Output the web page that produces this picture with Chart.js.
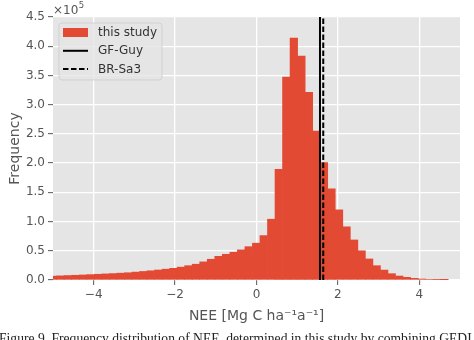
<!DOCTYPE html>
<html>
<head>
<meta charset="utf-8">
<script src="https://cdn.jsdelivr.net/npm/chart.js@4.4.0/dist/chart.umd.min.js"></script>
<style>
  html, body { margin: 0; padding: 0; background: #fff; }
  #wrap { position: relative; width: 474px; height: 340px; overflow: hidden; }
  #caption {
    position: absolute; left: -1px; top: 332px;
    font: 13.6px/13px "Liberation Serif", serif; color: #222; white-space: nowrap;
  }
</style>
</head>
<body>
<div id="wrap">
  <canvas id="neeChart" width="474" height="340"></canvas>
  <div id="caption">Figure 9. Frequency distribution of NEE, determined in this study by combining GEDI and</div>
</div>
<script>
// histogram bins (centres, Mg C ha-1 a-1) and counts
const binCentres = [
  -5.0025, -4.8175, -4.6325, -4.4475, -4.2625, -4.0775, -3.8925, -3.7075, -3.5225, -3.3375,
  -3.1525, -2.9675, -2.7825, -2.5975, -2.4125, -2.2275, -2.0425, -1.8575, -1.6725, -1.4875,
  -1.3025, -1.1175, -0.9325, -0.7475, -0.5625, -0.3775, -0.1925, -0.0075, 0.1775, 0.3625,
  0.5475, 0.7325, 0.9175, 1.1025, 1.2875, 1.4725, 1.6575, 1.8425, 2.0275, 2.2125,
  2.3975, 2.5825, 2.7675, 2.9525, 3.1375, 3.3225, 3.5075, 3.6925, 3.8775, 4.0625,
  4.2475, 4.4325, 4.6175
];
const binCounts = [
  6600, 7100, 7600, 8100, 8600, 9200, 9800, 10400, 11000, 11700,
  12400, 13500, 14600, 15800, 17100, 18500, 20000, 22000, 24500, 27000,
  31000, 35500, 40500, 44000, 47500, 51500, 57000, 63000, 76000, 104000,
  189500, 347000, 414000, 383000, 321000, 255000, 201000, 156000, 120000, 91000,
  68500, 50000, 36000, 24500, 17000, 10800, 6800, 4600, 2900, 1700,
  1200, 800, 500
];

// reference sites (vertical lines)
const siteNames = ['GF-Guy', 'BR-Sa3'];
const siteNEE = [1.56, 1.64];

// axes
const xTickValues = [-4, -2, 0, 2, 4];
const yTickValues = [0, 50000, 100000, 150000, 200000, 250000, 300000, 350000, 400000, 450000];
const xRange = [-5, 5];
const yRange = [0, 450000];

const tickFont = { family: 'DejaVu Sans', size: 12 };
const labelGrey = '#555555';

// grey panel behind the grid
const panelBg = {
  id: 'panelBg',
  beforeDraw(chart) {
    const { ctx, chartArea: a } = chart;
    ctx.save();
    ctx.fillStyle = '#E5E5E5';
    ctx.fillRect(a.left, a.top, a.width, a.height);
    ctx.restore();
  }
};

// matplotlib-style offset text and inset legend
const extras = {
  id: 'extras',
  afterDraw(chart) {
    const { ctx, chartArea: a } = chart;
    ctx.save();

    // x10^5 above the y axis
    ctx.fillStyle = labelGrey;
    ctx.textBaseline = 'alphabetic';
    ctx.font = '12px "DejaVu Sans"';
    ctx.fillText('\u00d710', a.left, 13.5);
    const w = ctx.measureText('\u00d710').width;
    ctx.font = '8.5px "DejaVu Sans"';
    ctx.fillText('5', a.left + w + 0.5, 8);

    // legend box
    const bx = 59, by = 23, bw = 103, bh = 57;
    ctx.beginPath();
    ctx.roundRect(bx, by, bw, bh, 3);
    ctx.fillStyle = 'rgba(229,229,229,0.8)';
    ctx.fill();
    ctx.strokeStyle = 'rgba(204,204,204,0.8)';
    ctx.lineWidth = 1;
    ctx.stroke();

    ctx.font = '12px "DejaVu Sans"';
    ctx.textBaseline = 'middle';
    chart.data.datasets.forEach((ds, i) => {
      const cy = 32.5 + i * 18.3;
      if (ds.type === 'line') {
        ctx.beginPath();
        ctx.setLineDash(ds.borderDash || []);
        ctx.strokeStyle = ds.borderColor;
        ctx.lineWidth = ds.borderWidth;
        ctx.moveTo(63, cy);
        ctx.lineTo(88, cy);
        ctx.stroke();
        ctx.setLineDash([]);
      } else {
        ctx.fillStyle = ds.backgroundColor;
        ctx.fillRect(63, cy - 4.5, 25, 9);
      }
      ctx.fillStyle = '#333333';
      ctx.fillText(ds.label, 98, cy + 0.5);
    });
    ctx.restore();
  }
};

const histData = binCentres.map((x, i) => ({ x: x, y: binCounts[i] }));

const siteSets = siteNames.map((name, i) => ({
  type: 'line',
  label: name,
  data: [{ x: siteNEE[i], y: yRange[0] }, { x: siteNEE[i], y: yRange[1] }],
  borderColor: '#000000',
  borderWidth: 2,
  borderDash: i === 0 ? [] : [5.5, 2.5],
  pointRadius: 0,
  fill: false,
  order: 0
}));

new Chart(document.getElementById('neeChart').getContext('2d'), {
  type: 'bar',
  data: {
    datasets: [{
      label: 'this study',
      data: histData,
      backgroundColor: '#E24A33',
      borderWidth: 0,
      barPercentage: 1,
      categoryPercentage: 1,
      grouped: false,
      order: 2
    }].concat(siteSets)
  },
  options: {
    responsive: false,
    animation: false,
    devicePixelRatio: 1,
    layout: { padding: { left: 0, right: 14, top: 17, bottom: 0 } },
    plugins: { legend: { display: false }, tooltip: { enabled: false } },
    scales: {
      x: {
        type: 'linear',
        min: xRange[0],
        max: xRange[1],
        offset: false,
        afterBuildTicks: s => { s.ticks = xTickValues.map(v => ({ value: v })); },
        afterFit: s => { s.height = 60; },
        ticks: {
          font: tickFont,
          color: labelGrey,
          padding: 3,
          maxRotation: 0,
          callback: v => (v < 0 ? '\u2212' + Math.abs(v) : String(v))
        },
        grid: { color: '#FFFFFF', lineWidth: 1.3, tickLength: 5, tickColor: labelGrey, tickWidth: 1, offset: false },
        border: { display: false },
        title: {
          display: true,
          text: 'NEE [Mg C ha\u207b\u00b9a\u207b\u00b9]',
          color: labelGrey,
          font: { family: 'DejaVu Sans', size: 14 },
          padding: { top: 0, bottom: 15.6 }
        }
      },
      y: {
        min: yRange[0],
        max: yRange[1],
        afterBuildTicks: s => { s.ticks = yTickValues.map(v => ({ value: v })); },
        afterFit: s => { s.width = 53; },
        ticks: {
          font: tickFont,
          color: labelGrey,
          padding: 3,
          callback: v => (v / 1e5).toFixed(1)
        },
        grid: { color: '#FFFFFF', lineWidth: 1.3, tickLength: 5, tickColor: labelGrey, tickWidth: 1 },
        border: { display: false },
        title: {
          display: true,
          text: 'Frequency',
          color: labelGrey,
          font: { family: 'DejaVu Sans', size: 14 },
          padding: { top: 6.6, bottom: 0 }
        }
      }
    }
  },
  plugins: [panelBg, extras]
});
</script>
</body>
</html>
